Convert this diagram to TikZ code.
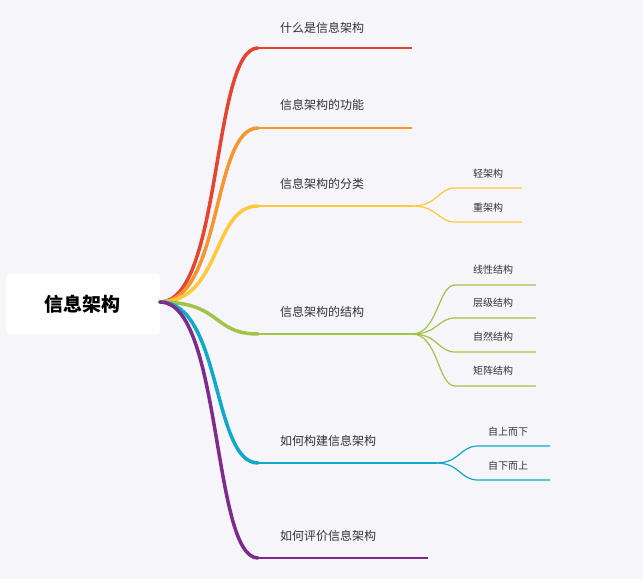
\documentclass[tikz,border=0pt]{standalone}
\usepackage{fontspec}
\setmainfont{Noto Sans CJK SC}
\begin{document}
\begin{tikzpicture}[x=1pt,y=-1pt,
  lab/.style={anchor=west,inner sep=0pt,font=\fontsize{12}{14}\selectfont,text=black!80},
  slab/.style={anchor=west,inner sep=0pt,font=\fontsize{10}{12}\selectfont,text=black!80},
  main/.style={line width=3.5pt,line cap=round},
  ul/.style={line width=1.5pt},
  sub/.style={line width=1.2pt}]
\definecolor{bg}{HTML}{F5F5FA}
\definecolor{cR}{HTML}{E8432E}
\definecolor{cO}{HTML}{F7962F}
\definecolor{cY}{HTML}{FFC93C}
\definecolor{cG}{HTML}{A2C346}
\definecolor{cC}{HTML}{0FA9C9}
\definecolor{cP}{HTML}{7F2B8E}
\fill[bg] (0,0) rectangle (643,579);
\useasboundingbox (0,0) rectangle (643,579);
\node[fill=white,rounded corners=4pt,minimum width=154pt,minimum height=60pt,font=\fontsize{19}{22}\selectfont\bfseries] (root) at (83,304) {信息架构};
\coordinate (s) at (160,302);
\foreach \n/\y/\e/\c in {a/48/412/cR,b/128/412/cO,c/206/412/cY,d/334/412/cG,e/463/436/cC,f/558/428/cP}{
  \coordinate (\n0) at (258,\y);
  \coordinate (\n1) at (\e,\y);
  \draw[main,\c] (s) .. controls (222,302) and (212,\y) .. (\n0);
  \draw[ul,\c] (\n0) -- (\n1);
}
\node[lab] (ta) at (280,28) {什么是信息架构};
\node[lab] (tb) at (280,105) {信息架构的功能};
\node[lab] (tc) at (280,184) {信息架构的分类};
\node[lab] (td) at (280,312) {信息架构的结构};
\node[lab] (te) at (280,441) {如何构建信息架构};
\node[lab] (tf) at (280,536) {如何评价信息架构};
\foreach \y/\t/\n in {188/轻架构/sc1,222/重架构/sc2}{
  \coordinate (\n a) at (455,\y); \coordinate (\n b) at (522,\y);
  \draw[sub,cY] (c1) .. controls (438,206) and (438,\y) .. (\n a) -- (\n b);
  \node[slab] (\n) at (473,\y-14) {\t};
}
\foreach \y/\t/\n in {285/线性结构/sd1,318/层级结构/sd2,352/自然结构/sd3,386/矩阵结构/sd4}{
  \coordinate (\n a) at (455,\y); \coordinate (\n b) at (536,\y);
  \draw[sub,cG] (d1) .. controls (438,334) and (438,\y) .. (\n a) -- (\n b);
  \node[slab] (\n) at (473,\y-15) {\t};
}
\foreach \y/\t/\n in {446/自上而下/se1,480/自下而上/se2}{
  \coordinate (\n a) at (478,\y); \coordinate (\n b) at (550,\y);
  \draw[sub,cC] (e1) .. controls (460,463) and (460,\y) .. (\n a) -- (\n b);
  \node[slab] (\n) at (488,\y-14) {\t};
}
\end{tikzpicture}
\end{document}
